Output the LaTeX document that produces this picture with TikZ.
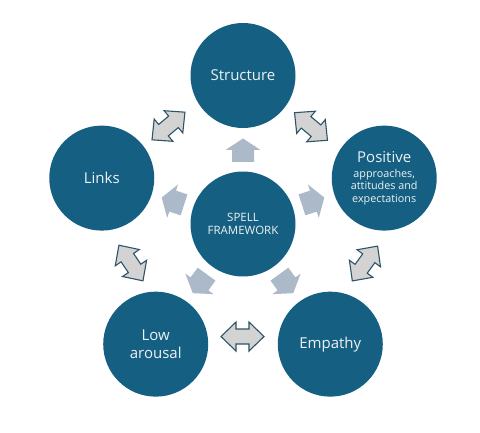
\documentclass[tikz,border=0pt]{standalone}
\usepackage{fontspec}
\setmainfont{Open Sans}
\usetikzlibrary{calc}
\definecolor{circfill}{HTML}{156082}
\definecolor{txtcol}{HTML}{EEF1F3}
\definecolor{smallfill}{HTML}{ACB9C8}
\definecolor{dblfill}{HTML}{D3D3D3}
\definecolor{dblline}{HTML}{2E5467}
\tikzset{
  circ/.style={circle, fill=circfill, minimum size=105pt, inner sep=0pt, text=txtcol, align=center, font=\fontsize{15}{18}\selectfont},
  dblarrow/.pic={\draw[fill=dblfill, draw=dblline, line width=1.1pt, line join=miter]
     (-21.5,0) -- (-6.5,14.5) -- (-6.5,7.5) -- (6.5,7.5) -- (6.5,14.5) -- (21.5,0)
     -- (6.5,-14.5) -- (6.5,-7.5) -- (-6.5,-7.5) -- (-6.5,-14.5) -- cycle;},
  smallarrow/.pic={\fill[smallfill] (-11,-12) -- (11,-12) -- (11,0) -- (17.5,0) -- (0,11.5) -- (-17.5,0) -- (-11,0) -- cycle;}
}
\begin{document}
\begin{tikzpicture}[x=1pt,y=1pt]
\useasboundingbox (0,0) rectangle (480,432);
\fill[white] (0,0) rectangle (480,432);
\coordinate (O) at (243,208);
\node[circ, font=\fontsize{11.5}{13.5}\selectfont] (C) at (O) {SPELL\\FRAMEWORK};
\node[circ] (S) at ($(O)+(90:148.5)$) {Structure};
\node[circ, font=\fontsize{10.8}{12.6}\selectfont] (P) at ($(O)+(18:148.5)$) {{\fontsize{15}{18}\selectfont Positive}\\[2pt]approaches,\\attitudes and\\expectations};
\node[circ] (E) at ($(O)+(-54:148.5)$) {Empathy};
\node[circ] (L) at ($(O)+(-126:148.5)$) {Low\\arousal};
\node[circ] (K) at ($(O)+(162:148.5)$) {Links};
% small arrows from the centre outwards
\foreach \a in {90,18,-54,-126,162}{
  \pic[rotate=\a-90] at ($(C.center)+(\a:74)$) {smallarrow};
}
% double arrows between neighbours
\pic[rotate=40] at ($($(K)!0.5!(S)$)+(-3.9,0.8)$) {dblarrow};
\pic[rotate=-40] at ($($(S)!0.5!(P)$)+(-2.6,0.3)$) {dblarrow};
\pic[rotate=54] at ($($(P)!0.5!(E)$)+(7.7,-2.4)$) {dblarrow};
\pic[rotate=-56] at ($($(K)!0.5!(L)$)+(2.2,-1.9)$) {dblarrow};
\pic[rotate=0] at ($($(L)!0.5!(E)$)+(-0.5,7.6)$) {dblarrow};
\end{tikzpicture}
\end{document}
